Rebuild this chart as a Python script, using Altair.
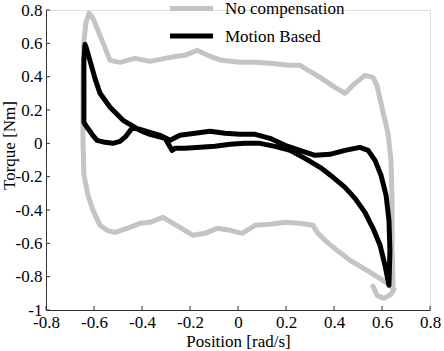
import altair as alt
import pandas as pd

series_names = ["No compensation", "Motion Based"]
series_colors = ["#c4c4c4", "#000000"]

nocomp_x = [0.5625, 0.579, 0.608, 0.6375, 0.65,
            0.629, 0.604, 0.5375, 0.467, 0.4125, 0.3625, 0.333, 0.3125, 0.258, 0.196, 0.133, 0.071,
            0.017, -0.033, -0.0875, -0.1375, -0.1875, -0.242, -0.3125, -0.367, -0.408, -0.4625,
            -0.5125, -0.546, -0.575, -0.604, -0.625, -0.642, -0.646, -0.646, -0.642, -0.633,
            -0.621, -0.604, -0.575, -0.533, -0.492, -0.429, -0.367, -0.283, -0.221, -0.171,
            -0.117, -0.067, 0.008, 0.071, 0.133, 0.2125, 0.258, 0.342, 0.404, 0.446, 0.4875,
            0.529, 0.5625, 0.579, 0.6, 0.625, 0.6375, 0.642, 0.642, 0.646]
nocomp_y = [-0.858, -0.912, -0.930, -0.906, -0.876,
            -0.846, -0.822, -0.762, -0.702, -0.642, -0.582, -0.540, -0.492, -0.480, -0.474, -0.486, -0.492,
            -0.540, -0.522, -0.510, -0.540, -0.552, -0.504, -0.444, -0.474, -0.480, -0.510,
            -0.534, -0.522, -0.492, -0.402, -0.312, -0.192, 0.018, 0.378, 0.618, 0.726,
            0.780, 0.750, 0.648, 0.498, 0.486, 0.510, 0.492, 0.516, 0.528, 0.558,
            0.522, 0.498, 0.486, 0.486, 0.480, 0.468, 0.468, 0.396, 0.336, 0.300, 0.360,
            0.408, 0.396, 0.348, 0.216, 0.060, -0.102, -0.342, -0.642, -0.852]

motion_x = [-0.642, -0.629, -0.608, -0.5875, -0.554, -0.521, -0.492, -0.467, -0.442, -0.408,
            -0.367, -0.325, -0.283, -0.242, -0.179, -0.117, -0.054, 0.008, 0.071, 0.133, 0.196,
            0.258, 0.321, 0.383, 0.446, 0.508, 0.542, 0.571, 0.596, 0.617, 0.629, 0.633, 0.629,
            0.6125, 0.592, 0.5625, 0.529, 0.4875, 0.446, 0.396, 0.342, 0.279, 0.217, 0.154,
            0.092, 0.029, -0.033, -0.096, -0.158, -0.221, -0.2625, -0.275, -0.304, -0.367,
            -0.408, -0.45, -0.479, -0.533, -0.575, -0.596, -0.617, -0.633, -0.6375, -0.642,
            -0.642, -0.642]
motion_y = [0.126, 0.096, 0.054, 0.018, 0.006, 0.0, 0.012, 0.042, 0.090, 0.084,
            0.066, 0.048, 0.018, 0.048, 0.060, 0.072, 0.060, 0.054, 0.054, 0.030, -0.012,
            -0.042, -0.072, -0.066, -0.042, -0.024, -0.042, -0.102, -0.192, -0.312, -0.462, -0.642, -0.852,
            -0.732, -0.612, -0.510, -0.414, -0.330, -0.264, -0.204, -0.144, -0.090, -0.042, -0.018,
            0.0, 0.0, -0.006, -0.018, -0.024, -0.030, -0.030, -0.042, 0.030, 0.054,
            0.078, 0.114, 0.138, 0.216, 0.300, 0.390, 0.498, 0.576, 0.594, 0.498,
            0.318, 0.126]

x_ticks = [-0.8, -0.6, -0.4, -0.2, 0, 0.2, 0.4, 0.6, 0.8]
y_ticks = [-1, -0.8, -0.6, -0.4, -0.2, 0, 0.2, 0.4, 0.6, 0.8]


def make_df(name, xs, ys):
    return pd.DataFrame({"series": name, "i": list(range(len(xs))), "x": xs, "y": ys})


df_nc = make_df(series_names[0], nocomp_x, nocomp_y)
df_mb = make_df(series_names[1], motion_x, motion_y)

FONT = "Liberation Serif"
FS = 17
W, H = 384, 300
AXIS_COLOR = "#333333"

xscale = alt.Scale(domain=[-0.8, 0.8], nice=False, zero=False)
yscale = alt.Scale(domain=[-1, 0.8], nice=False, zero=False)
label_expr = "replace(format(datum.value, '~g'), '\u2212', '-')"

x_axis = alt.Axis(title="Position [rad/s]", values=x_ticks, labelExpr=label_expr, ticks=False,
                  grid=False, domainColor=AXIS_COLOR, labelFont=FONT, labelFontSize=FS,
                  labelColor="#000", titleFont=FONT, titleFontSize=FS, titleFontWeight="normal",
                  titleColor="#000", labelPadding=4, titlePadding=3, labelFlush=False)
y_axis = alt.Axis(title="Torque [Nm]", values=y_ticks, labelExpr=label_expr, ticks=False,
                  grid=False, domainColor=AXIS_COLOR, labelFont=FONT, labelFontSize=FS,
                  labelColor="#000", titleFont=FONT, titleFontSize=FS, titleFontWeight="normal",
                  titleColor="#000", labelPadding=4, titleX=-37, titleY=135,
                  titleBaseline="middle", titleAngle=-90, labelFlush=False)

X = lambda f: alt.X(f, scale=xscale, axis=x_axis)
Y = lambda f: alt.Y(f, scale=yscale, axis=y_axis)


def line_layer(df, color):
    return alt.Chart(df).mark_line(color=color, strokeWidth=5, strokeJoin="round",
                                   strokeCap="round").encode(
        x=X("x:Q"), y=Y("y:Q"), order="i:Q")


gray = line_layer(df_nc, series_colors[0])
black = line_layer(df_mb, series_colors[1])

xt = alt.Chart(pd.DataFrame({"x": x_ticks})).mark_rule(color=AXIS_COLOR, strokeWidth=1).encode(
    x=X("x:Q"), y=alt.value(H), y2=alt.value(H - 4))
yt = alt.Chart(pd.DataFrame({"y": y_ticks})).mark_rule(color=AXIS_COLOR, strokeWidth=1).encode(
    y=Y("y:Q"), x=alt.value(0), x2=alt.value(4))

legend_layers = []
for k, (name, col) in enumerate(zip(series_names, series_colors)):
    ly = -1.5 + 27.5 * k
    ldf = pd.DataFrame({"series": [name]})
    legend_layers.append(alt.Chart(ldf).mark_rule(color=col, strokeWidth=5).encode(
        x=alt.value(124), x2=alt.value(167), y=alt.value(ly)))
    legend_layers.append(alt.Chart(ldf).mark_text(font=FONT, fontSize=FS, align="left",
                                                  baseline="middle", color="#000").encode(
        x=alt.value(179), y=alt.value(ly + 0.5), text="series:N"))

chart = alt.layer(gray, black, xt, yt, *legend_layers).properties(
    width=W, height=H,
    autosize=alt.AutoSizeParams(type="none"),
    padding={"left": 46, "top": 10, "right": 14, "bottom": 41},
).configure_view(stroke=None).configure(background="white")

chart.save("out.html", embed_options={"renderer": "svg", "actions": False})
